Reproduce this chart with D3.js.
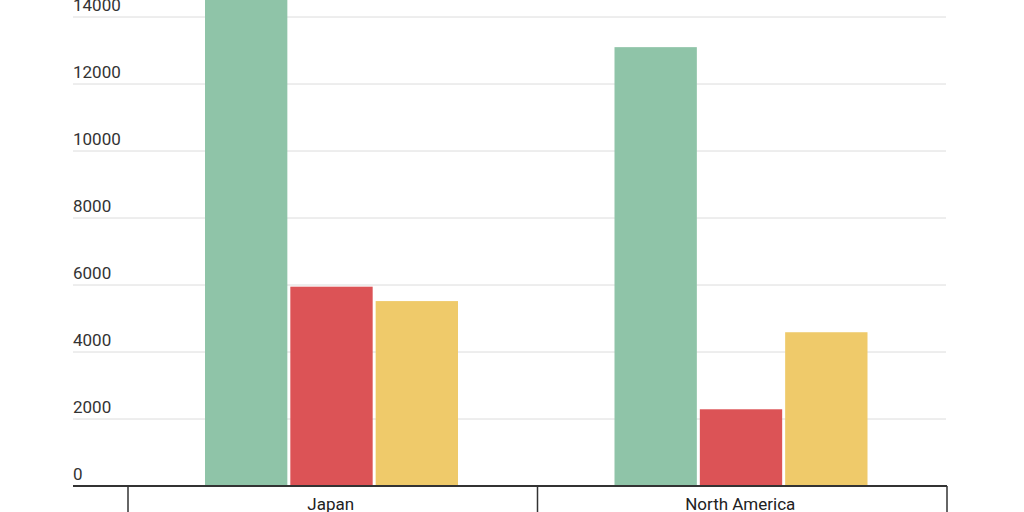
<!DOCTYPE html>
<html><head><meta charset="utf-8">
<script src="https://cdn.jsdelivr.net/npm/d3@7"></script>
<style>body{margin:0;background:#fff}svg{display:block}text{font-family:Roboto,sans-serif}</style>
</head><body><svg id="c" width="1024" height="512"></svg>
<script>
const categories=["Japan","North America"];
const seriesNames=["A","B","C"];
const seriesA=[16000,13100];
const seriesB=[5950,2290];
const seriesC=[5520,4590];
const colors=["#8fc4a8","#dc5356","#efca6a"];
const yTicks=[0,2000,4000,6000,8000,10000,12000,14000];

const svg=d3.select("#c");
const x0=d3.scaleBand().domain(categories).range([128,947]);
const y=d3.scaleLinear().domain([0,14000]).range([486,17]);
const inner=d3.scaleBand().domain(seriesNames).range([77,330]).paddingInner(0.035);

svg.append("g").selectAll("line").data(yTicks.slice(1)).join("line")
 .attr("x1",73).attr("x2",946).attr("y1",d=>y(d)).attr("y2",d=>y(d))
 .attr("stroke","#dcdcdc").attr("stroke-width",1);
svg.append("g").selectAll("text").data(yTicks).join("text")
 .attr("x",73).attr("y",d=>y(d)-6).text(d=>d)
 .attr("font-size",17).attr("fill","#333");

const vals=[seriesA,seriesB,seriesC];
categories.forEach((c,i)=>{
  seriesNames.forEach((s,j)=>{
    svg.append("rect").attr("x",x0(c)+inner(s)).attr("width",inner.bandwidth())
     .attr("y",y(vals[j][i])).attr("height",y(0)-y(vals[j][i])).attr("fill",colors[j]);
  });
});

svg.append("line").attr("x1",73).attr("x2",947).attr("y1",y(0)).attr("y2",y(0))
 .attr("stroke","#333").attr("stroke-width",2);
const ticks=[...categories.map(c=>x0(c)),x0.range()[1]];
svg.append("g").selectAll("line").data(ticks).join("line")
 .attr("x1",d=>d).attr("x2",d=>d).attr("y1",486).attr("y2",512).attr("stroke","#333").attr("stroke-width",1.5);
svg.append("g").selectAll("text").data(categories).join("text")
 .attr("x",d=>x0(d)+x0.bandwidth()/2-2).attr("y",510).attr("text-anchor","middle")
 .attr("font-size",17).attr("fill","#222").text(d=>d);
</script></body></html>
